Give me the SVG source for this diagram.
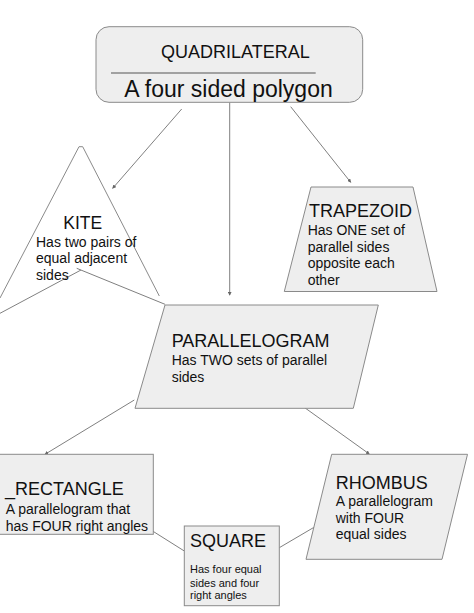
<svg xmlns="http://www.w3.org/2000/svg" width="474" height="613" viewBox="0 0 474 613">
<defs>
<style>
.shape{fill:#eeeeee;stroke:#8a8a8a;stroke-width:1}
.open{fill:none;stroke:#8a8a8a;stroke-width:1}
.conn{fill:none;stroke:#808080;stroke-width:1}
text{font-family:"Liberation Sans",Arial,sans-serif;fill:#111}
.t18{font-size:18px}
.t14{font-size:14px}
.t11{font-size:11px}
</style>
<marker id="arr" viewBox="0 0 6 6" refX="5" refY="3" markerWidth="4" markerHeight="4" orient="auto">
<path d="M0,0 L6,3 L0,6 z" fill="#666"/>
</marker>
</defs>
<rect width="474" height="613" fill="#ffffff"/>
<g id="connectors">
<line class="conn" x1="181.7" y1="109" x2="112.7" y2="188.3" marker-end="url(#arr)"/>
<line class="conn" x1="229.7" y1="102.3" x2="229.7" y2="295" marker-end="url(#arr)"/>
<line class="conn" x1="290.7" y1="106.7" x2="350.7" y2="182.3" marker-end="url(#arr)"/>
<line class="conn" x1="76.7" y1="268.3" x2="165" y2="304.3"/>
<line class="conn" x1="81" y1="270" x2="0" y2="313.3"/>
<line class="conn" x1="134.3" y1="400" x2="45" y2="454.3" marker-end="url(#arr)"/>
<line class="conn" x1="294" y1="400" x2="369.3" y2="454" marker-end="url(#arr)"/>
<line class="conn" x1="146.7" y1="527.3" x2="184.3" y2="551"/>
<line class="conn" x1="279.3" y1="547.7" x2="314" y2="527.3"/>
</g>
<g id="quadrilateral">
<rect class="shape" x="96" y="26.7" width="266.7" height="75.6" rx="13" ry="13"/>
<text class="t18" x="161" y="58.3">QUADRILATERAL</text>
<line x1="111" y1="73" x2="315.7" y2="73" stroke="#555" stroke-width="1"/>
<text x="124.3" y="96.5" style="font-size:23px">A four sided polygon</text>
</g>
<g id="kite">
<polyline class="open" points="0,298 79,146.7 82.7,146.7 159.3,296"/>
<text x="63.3" y="229.3" style="font-size:17.5px">KITE</text>
<text class="t14" x="36" y="246.7">Has two pairs of</text>
<text class="t14" x="36" y="263.3">equal adjacent</text>
<text class="t14" x="36" y="280">sides</text>
</g>
<g id="trapezoid">
<polygon class="shape" points="311,187 413,187 437,291.5 284.3,291.5"/>
<text class="t18" x="309" y="217">TRAPEZOID</text>
<text class="t14" x="307.7" y="235">Has ONE set of</text>
<text class="t14" x="307.7" y="251.7">parallel sides</text>
<text class="t14" x="307.7" y="268.3">opposite each</text>
<text class="t14" x="307.7" y="285">other</text>
</g>
<g id="parallelogram">
<polygon class="shape" points="165,305 378.3,305 353.3,408.3 135,408.3"/>
<text class="t18" x="171.7" y="347.3">PARALLELOGRAM</text>
<text class="t14" x="171.7" y="365">Has TWO sets of parallel</text>
<text class="t14" x="171.7" y="381.7">sides</text>
</g>
<g id="rectangle">
<rect class="shape" x="-1" y="454.3" width="154.3" height="80"/>
<text class="t18" x="5" y="495">_RECTANGLE</text>
<text class="t14" x="5.7" y="514">A parallelogram that</text>
<text class="t14" x="5.7" y="530.7">has FOUR right angles</text>
</g>
<g id="rhombus">
<polygon class="shape" points="331.7,454.3 467.5,454.3 442,559.3 306,559.3"/>
<text class="t18" x="335.7" y="489.3">RHOMBUS</text>
<text class="t14" x="335.7" y="505.7">A parallelogram</text>
<text class="t14" x="335.7" y="522.7">with FOUR</text>
<text class="t14" x="335.7" y="539">equal sides</text>
</g>
<g id="square">
<rect class="shape" x="184.3" y="526" width="95" height="79.7"/>
<text class="t18" x="190" y="547.3">SQUARE</text>
<text class="t11" x="190" y="573.3">Has four equal</text>
<text class="t11" x="190" y="586.7">sides and four</text>
<text class="t11" x="190" y="599">right angles</text>
</g>
</svg>
